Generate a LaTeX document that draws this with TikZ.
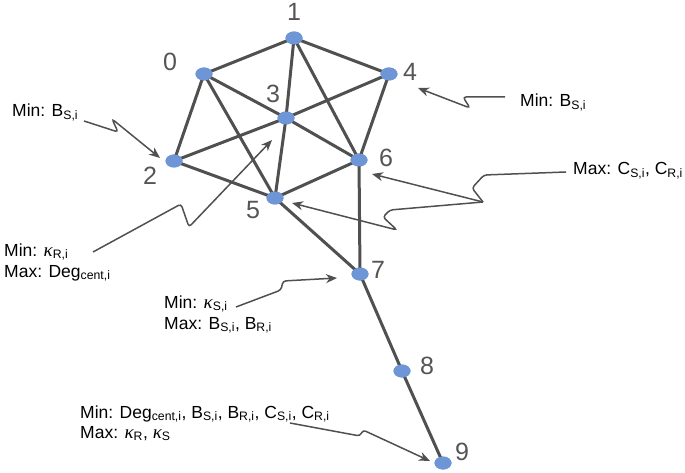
\documentclass[tikz,border=0pt]{standalone}
\usepackage{fontspec}
\setmainfont{Liberation Sans}
\newfontfamily\kfont{Liberation Serif}
\usetikzlibrary{arrows.meta,shapes.geometric}
\definecolor{edgegray}{HTML}{505050}
\definecolor{dotblue}{HTML}{6E96D6}
\definecolor{lblgray}{HTML}{555555}
\newcommand\sbs[1]{\textsubscript{#1}}
\newcommand\kap{{\kfont\itshape\fontsize{19}{20}\selectfont κ}}
\begin{document}
\begin{tikzpicture}[x=1pt,y=-1pt,
  vtx/.style={ellipse,fill=dotblue,minimum width=17pt,minimum height=13pt,inner sep=0pt},
  link/.style={line width=3pt,draw=edgegray},
  ann/.style={line width=1.5pt,draw=edgegray,rounded corners=3pt,-{Stealth[length=11pt,width=9pt,inset=3.5pt]}},
  annplain/.style={line width=1.5pt,draw=edgegray,rounded corners=3pt},
  lbl/.style={font=\fontsize{25}{25}\selectfont,text=lblgray,inner sep=0pt},
  txt/.style={font=\fontsize{17.5}{20}\selectfont,anchor=base west,inner sep=0pt}]
\useasboundingbox (0,0) rectangle (685,473);
% vertices
\node[vtx] (n0) at (204,74) {};
\node[vtx] (n1) at (294,38) {};
\node[vtx] (n2) at (174,161) {};
\node[vtx] (n3) at (286,118) {};
\node[vtx] (n4) at (389,74) {};
\node[vtx] (n5) at (275,198) {};
\node[vtx] (n6) at (359,160) {};
\node[vtx] (n7) at (360,274) {};
\node[vtx] (n8) at (402,371) {};
\node[vtx] (n9) at (443,463) {};
% edges
\foreach \a/\b in {n0/n1,n1/n4,n0/n2,n0/n3,n0/n5,n1/n3,n1/n6,n2/n3,n3/n4,n3/n6,n3/n5,n4/n6,n2/n5,n5/n6,n5/n7,n6/n7,n7/n8,n8/n9}
  \draw[link] (\a.center) -- (\b.center);
% vertices on top of the edges
\foreach \n in {n0,n1,n2,n3,n4,n5,n6,n7,n8,n9}
  \fill[dotblue] (\n.center) ellipse[x radius=8.5pt,y radius=6.5pt];
% vertex labels
\node[lbl] (l0) at (170,62) {0};
\node[lbl] (l1) at (294,12) {1};
\node[lbl] (l2) at (150,176) {2};
\node[lbl] (l3) at (273,94) {3};
\node[lbl] (l4) at (410,72) {4};
\node[lbl] (l5) at (253,210) {5};
\node[lbl] (l6) at (386,158) {6};
\node[lbl] (l7) at (378,270) {7};
\node[lbl] (l8) at (427,366) {8};
\node[lbl] (l9) at (462,452) {9};
% annotation texts
\node[txt] (t1) at (12,117) {Min: B\sbs{S,i}};
\node[txt] (t2) at (520,107) {Min: B\sbs{S,i}};
\node[txt] (t3) at (573,175) {Max: C\sbs{S,i}, C\sbs{R,i}};
\node[txt] (t4a) at (4,256) {Min: \kap\sbs{R,i}};
\node[txt] (t4b) at (4,277) {Max: Deg\sbs{cent,i}};
\node[txt] (t5a) at (164,308) {Min: \kap\sbs{S,i}};
\node[txt] (t5b) at (164,329) {Max: B\sbs{S,i}, B\sbs{R,i}};
\node[txt] (t6a) at (80,418) {Min: Deg\sbs{cent,i}, B\sbs{S,i}, B\sbs{R,i}, C\sbs{S,i}, C\sbs{R,i}};
\node[txt] (t6b) at (80,438) {Max: \kap\sbs{R}, \kap\sbs{S}};
% annotation arrows
\coordinate (a1s) at (84,121);
\coordinate (a1b) at (118,132);
\coordinate (a1c) at (112,119);
\coordinate (a1e) at (160,158);
\draw[ann] (a1s) -- (a1b) -- (a1c) -- (a1e);
\coordinate (a2s) at (505,97);
\coordinate (a2b) at (463,97);
\coordinate (a2c) at (470,108);
\coordinate (a2e) at (418,88);
\draw[ann] (a2s) -- (a2b) -- (a2c) -- (a2e);
\coordinate (a3s) at (566,172);
\coordinate (a3b) at (484,175);
\coordinate (a3c) at (472,188);
\coordinate (a3j) at (483,202);
\coordinate (a3e) at (372,174);
\coordinate (a3d) at (390,210);
\coordinate (a3f) at (383,217);
\coordinate (a3g) at (397,230);
\coordinate (a3h) at (292,203);
\draw[annplain] (a3s) -- (a3b) -- (a3c) -- (a3j);
\draw[ann] (a3j) -- (a3e);
\draw[ann] (a3j) -- (a3d) -- (a3f) -- (a3g) -- (a3h);
\coordinate (a4s) at (93,252);
\coordinate (a4b) at (181,204);
\coordinate (a4c) at (189,227);
\coordinate (a4e) at (272,140);
\draw[ann] (a4s) -- (a4b) -- (a4c) -- (a4e);
\coordinate (a5s) at (236,307);
\coordinate (a5b) at (281,290);
\coordinate (a5c) at (283,281);
\coordinate (a5e) at (337,278);
\draw[ann] (a5s) -- (a5b) -- (a5c) -- (a5e);
\coordinate (a6s) at (290,423);
\coordinate (a6b) at (360,436);
\coordinate (a6c) at (363,430);
\coordinate (a6e) at (430,461);
\draw[ann] (a6s) -- (a6b) -- (a6c) -- (a6e);
\end{tikzpicture}
\end{document}
